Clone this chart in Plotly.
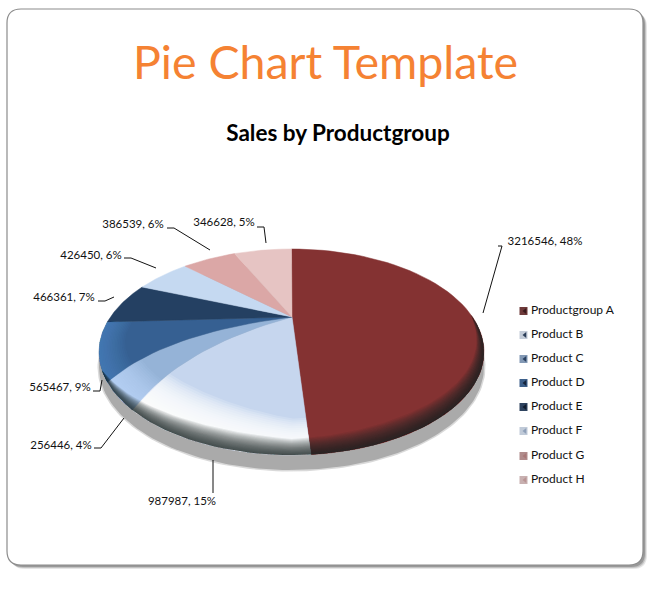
import numpy as np
import plotly.graph_objects as go

# data
products = ["Productgroup A", "Product B", "Product C", "Product D",
            "Product E", "Product F", "Product G", "Product H"]
sales = [3216546, 987987, 256446, 565467, 466361, 426450, 386539, 346628]
colors = ["#843232", "#c6d6ee", "#95b3d7", "#366092",
          "#244062", "#c5d9f1", "#dba7a6", "#e6c4c3"]
swatch_face = ["#6e3a3a", "#c4ccd8", "#8298b4", "#3c5f8a",
               "#2e435f", "#c0cad8", "#b08c8c", "#c8b0b0"]
swatch_marks = ["#3a1a1c", "#2c3e58", "#2a4060", "#14243c",
                "#101c2e", "#8fa0b8", "#a87878", "#b89494"]

# leader lines and label centres, in picture pixels
label_xy = [(545, 242), (182, 502), (61, 446), (60, 388),
            (64, 298), (91, 256), (133, 225), (224, 223)]
leaders = [[(498, 246), (502, 246), (483, 313)],
           [(213, 493), (213, 460)],
           [(94, 448), (101, 448), (124, 418)],
           [(93, 391), (100, 391), (102, 380)],
           [(98, 301), (105, 301), (114, 297)],
           [(124, 258), (131, 258), (156, 268)],
           [(167, 228), (174, 228), (210, 250)],
           [(257, 227), (264, 227), (266, 243)]]
legend_x = 523.5
legend_y = [311, 335, 359, 383, 407, 431, 456, 480]

# pie outline and the point the slices meet at
cx, cy, rx, ry = 291.5, 352, 192.5, 103
apex_x, apex_y = 292, 317

FONT = "Lato"
fig = go.Figure()


def ray(theta, t):
    """point at fraction t along the slice edge for angle theta (deg clockwise from top)"""
    th = np.radians(theta)
    phi = th + np.radians(15) * np.sin(th) ** 2
    end_x = cx + rx * np.sin(phi)
    end_y = cy - ry * np.cos(phi)
    ctrl_x = apex_x + 0.7 * (end_x - apex_x)
    ctrl_y = apex_y + 0.7 * (end_y - apex_y)
    # the edges bend down over the bevel on the lower left
    lower_left = (theta > 180) & (theta < 270)
    ctrl_y = ctrl_y - 35 * np.where(lower_left, np.sin(2 * th), 0)
    x = (1 - t) ** 2 * apex_x + 2 * t * (1 - t) * ctrl_x + t ** 2 * end_x
    y = (1 - t) ** 2 * apex_y + 2 * t * (1 - t) * ctrl_y + t ** 2 * end_y
    return x, y


def add_poly(x, y, color):
    fig.add_trace(go.Scatter(x=x, y=y, mode="lines", fill="toself", fillcolor=color,
                             line=dict(width=0), hoverinfo="skip", showlegend=False))


def add_band(a0, a1, depth_fn, color):
    """fill from the rim inwards by depth_fn(angle), between two slice angles"""
    th = np.linspace(a0, a1, 80)
    ox, oy = ray(th, 1.0)
    ix, iy = ray(th, 1.0 - depth_fn(th))
    add_poly(np.r_[ox, ix[::-1]], np.r_[oy, iy[::-1]], color)


def add_glow(a0, a1, near, far, rgb, alpha, taper=0.0, steps=16):
    # stack of see-through bands, so the colour builds up towards the rim
    a = 1 - (1 - alpha) ** (1 / steps)
    for i in range(steps):
        d = far + (near - far) * i / (steps - 1)
        add_band(a0, a1, lambda th, d=d: d * (1 - taper * (th - a0) / (a1 - a0)),
                 f"rgba({rgb},{a:.4f})")


# shadow under the pie
ang = np.linspace(0, 2 * np.pi, 200)
add_poly(cx + (rx + 1.5) * np.sin(ang), cy + 15 - (ry + 1.5) * np.cos(ang), "rgba(170,170,170,0.45)")
add_poly(cx + rx * np.sin(ang), cy + 15 - ry * np.cos(ang), "#aaaaaa")

# slices
total = sum(sales)
edges = np.r_[0, np.cumsum(sales)] / total * 360
for i in range(len(sales)):
    a0, a1 = edges[i], edges[i + 1]
    th = np.linspace(a0, a1, 80)
    rim_x, rim_y = ray(th, 1.0)
    t = np.linspace(0, 1, 25)
    start_x, start_y = ray(np.full(25, a0), t)
    stop_x, stop_y = ray(np.full(25, a1), t[::-1])
    fig.add_trace(go.Scatter(x=np.r_[start_x, rim_x, stop_x], y=np.r_[start_y, rim_y, stop_y],
                             mode="lines", fill="toself", fillcolor=colors[i],
                             line=dict(width=0.5, color=colors[i]), name=products[i],
                             text=products[i], hoverinfo="text", showlegend=False))

# bevel highlights on the front left slices
add_glow(edges[1], edges[2], 0.11, 0.36, "255,255,255", 0.95, taper=0.12)
add_glow(edges[2], edges[3], 0.06, 0.26, "190,222,255", 0.75)
add_glow(edges[3], edges[4], 0.02, 0.2, "84,140,205", 0.55)


# dark edge along the front
def dark_depth(depth):
    return lambda th: depth * np.clip(np.sin(np.pi * (th - 58) / 189), 0, 1) ** 0.8


dark_steps = 18
for d in np.linspace(0.19, 0.005, dark_steps):
    add_band(58, 247, dark_depth(d), f"rgba(30,32,42,{1 - 0.22 ** (1 / dark_steps):.4f})")

# leader lines
for pts in leaders:
    fig.add_trace(go.Scatter(x=[p[0] for p in pts], y=[p[1] for p in pts], mode="lines",
                             line=dict(color="#111111", width=1), hoverinfo="skip", showlegend=False))

# data labels
labels = [f"{v}, {round(v / total * 100)}%" for v in sales]
fig.add_trace(go.Scatter(x=[p[0] for p in label_xy], y=[p[1] for p in label_xy], mode="text",
                         text=labels, textposition="middle center",
                         textfont=dict(family=FONT, size=11.5, color="#111111"),
                         hoverinfo="skip", showlegend=False))

# legend, drawn by hand to keep the small swatches close to the text
fig.add_trace(go.Scatter(x=[legend_x] * len(products), y=legend_y, mode="markers",
                         marker=dict(symbol="square", size=8, color=swatch_face, line=dict(width=0)),
                         hoverinfo="skip", showlegend=False))
fig.add_trace(go.Scatter(x=[legend_x + 1.5] * len(products), y=legend_y, mode="markers",
                         marker=dict(symbol="triangle-left", size=5, color=swatch_marks, line=dict(width=0)),
                         hoverinfo="skip", showlegend=False))
fig.add_trace(go.Scatter(x=[legend_x + 7.5] * len(products), y=legend_y, mode="text",
                         text=products, textposition="middle right",
                         textfont=dict(family=FONT, size=12, color="#111111"),
                         hoverinfo="skip", showlegend=False))


def card_path(x0, y0, x1, y1, r):
    return (f"M {x0 + r} {y0} L {x1 - r} {y0} Q {x1} {y0} {x1} {y0 + r} L {x1} {y1 - r} "
            f"Q {x1} {y1} {x1 - r} {y1} L {x0 + r} {y1} Q {x0} {y1} {x0} {y1 - r} "
            f"L {x0} {y0 + r} Q {x0} {y0} {x0 + r} {y0} Z")


# card with a soft shadow
shapes = []
for off, op in [(4, 0.15), (3, 0.25), (2, 0.4)]:
    shapes.append(dict(type="path", path=card_path(7 + off, 9 + off, 643 + off, 565 + off, 14), layer="below",
                       xref="x", yref="y", fillcolor=f"rgba(90,90,90,{op})", line=dict(width=0)))
shapes.append(dict(type="path", path=card_path(7, 9, 643, 565, 14), layer="below", xref="x", yref="y",
                   fillcolor="white", line=dict(color="#8c8c8c", width=1.2)))

fig.update_layout(
    width=656, height=591,
    margin=dict(l=0, r=0, t=0, b=0),
    paper_bgcolor="white", plot_bgcolor="rgba(0,0,0,0)",
    showlegend=False,
    xaxis=dict(range=[0, 656], visible=False, fixedrange=True),
    yaxis=dict(range=[591, 0], visible=False, fixedrange=True),
    title=dict(text="<b>Sales by Productgroup</b>", x=338 / 656, xanchor="center",
               y=1 - 133 / 591, yanchor="middle",
               font=dict(family=FONT, size=22.5, color="#000000")),
    annotations=[dict(text="Pie Chart Template", xref="x", yref="y", x=325.5, y=61,
                      showarrow=False, font=dict(family=FONT, size=46.5, color="#f58233"))],
    shapes=shapes,
)

fig.write_html("out.html", config=dict(displayModeBar=False),
               post_script="document.body.style.margin='0';")
